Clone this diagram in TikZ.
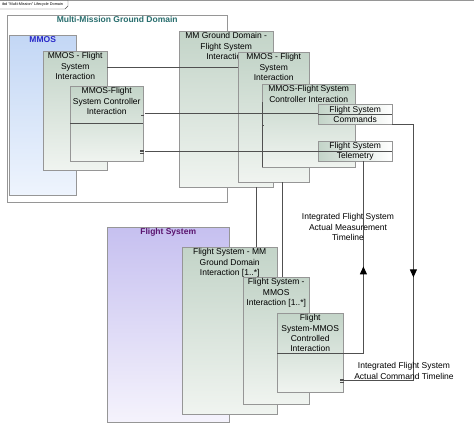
\documentclass[tikz,border=0pt]{standalone}
\usepackage{fontspec}
\setmainfont{Liberation Sans}
\usetikzlibrary{calc,arrows.meta,decorations.markings}

\definecolor{boxedge}{RGB}{150,150,150}
\definecolor{wirecol}{RGB}{80,80,80}
\definecolor{tealT}{RGB}{40,110,110}
\definecolor{mmosT}{RGB}{40,40,200}
\definecolor{fsT}{RGB}{90,20,110}
\definecolor{mmosTop}{RGB}{195,215,245}
\definecolor{mmosBot}{RGB}{238,244,253}
\definecolor{fsTop}{RGB}{198,192,240}
\definecolor{fsBot}{RGB}{245,243,252}
\definecolor{partTop}{RGB}{195,212,200}
\definecolor{partBot}{RGB}{240,244,240}

\begin{document}
\begin{tikzpicture}[x=1pt,y=-1pt,
    font=\fontsize{8.5}{10.2}\selectfont,
    box/.style={draw=boxedge, anchor=north west, inner sep=0pt},
    part/.style={box, top color=partTop, bottom color=partBot},
    lab/.style={anchor=north, align=center, inner sep=1.5pt},
    title/.style={lab, font=\fontsize{8.5}{10.2}\selectfont\bfseries},
    wire/.style={draw=wirecol, line width=1pt},
    flow/.style={wire, postaction={decorate, decoration={markings,
        mark=at position #1 with {\arrow[black]{Triangle[width=7pt,length=8pt]}}}}}
  ]
  \useasboundingbox (0,0) rectangle (474,428);

  % diagram frame tab
  \draw[boxedge] (0,0.5) -- (474,0.5);
  \node[anchor=west, inner sep=0pt, font=\fontsize{3.8}{4}\selectfont] (tab) at (2,4.5) {ibd "Multi-Mission" Lifecycle Domain};
  \draw[wirecol, line width=0.4pt] (0,0) -- (68,0) -- (68,6) -- (65,9) -- (0,9);

  % ground side
  \node[box, fill=white, minimum width=220pt, minimum height=187pt,
    label={[title, text=tealT]north:Multi-Mission Ground Domain}] (mmgd) at (7,15) {};
  \node[box, top color=mmosTop, bottom color=mmosBot, minimum width=67pt, minimum height=160pt,
    label={[title, text=mmosT]north:MMOS}] (mmos) at (9,35) {};
  \node[part, minimum width=64pt, minimum height=119pt,
    label={[lab]north:{MMOS - Flight\\System\\Interaction}}] (mmosFsiL) at (43,51) {};
  \node[part, minimum width=73pt, minimum height=75pt,
    label={[lab]north:{MMOS-Flight\\System Controller\\Interaction}}] (ctlL) at (70,86) {};
  \draw[wirecol, line width=0.6pt] ($(ctlL.south west)+(0,-38)$) -- ($(ctlL.south east)+(0,-38)$);

  \node[part, minimum width=94pt, minimum height=156pt,
    label={[lab]north:{MM Ground Domain -\\Flight System\\Interaction}}] (mmgdFsi) at (179,31) {};
  \node[part, minimum width=71pt, minimum height=130pt,
    label={[lab]north:{MMOS - Flight\\System\\Interaction}}] (mmosFsiR) at (238,52) {};
  \node[part, minimum width=93pt, minimum height=83pt,
    label={[lab]north:{MMOS-Flight System\\Controller Interaction}}] (ctlR) at (262,84) {};
  \draw[wire, line width=0.8pt] ($(ctlR.north west)+(0,18)$) -- (ctlR.south west);
  \draw[wirecol, line width=0.4pt] ($(ctlR.north west)+(0,41)$) -- ++(2,0);

  \node[box, left color=partTop, right color=white, minimum width=74pt, minimum height=20pt,
    align=center] (cmd) at (318,104) {Flight System\\Commands};
  \node[box, left color=partTop, right color=white, minimum width=74pt, minimum height=20pt,
    align=center] (tlm) at (318,141) {Flight System\\Telemetry};
  \draw[wirecol, line width=0.6pt] (cmd.west) -- (cmd.east);
  \draw[wirecol, line width=0.6pt] (tlm.west) -- (tlm.east);

  % flight side
  \node[box, top color=fsTop, bottom color=fsBot, minimum width=122pt, minimum height=195pt,
    label={[title, text=fsT]north:Flight System}] (fs) at (107,227) {};
  \node[part, minimum width=95pt, minimum height=167pt,
    label={[lab]north:{Flight System - MM\\Ground Domain\\Interaction [1..*]}}] (fsMmgd) at (182,247) {};
  \node[part, minimum width=66pt, minimum height=127pt,
    label={[lab]north:{Flight System -\\MMOS\\Interaction [1..*]}}] (fsMmos) at (243,277) {};
  \node[part, minimum width=66pt, minimum height=79pt,
    label={[lab]north:{Flight\\System-MMOS\\Controlled\\Interaction}}] (fsCtl) at (277,313) {};
  \draw[wirecol, line width=0.6pt] ($(fsCtl.south west)+(0,-39)$) -- ($(fsCtl.south east)+(0,-39)$);

  % connectors
  \draw[wire] (mmosFsiL.north east) ++(0,17) coordinate (w1) -- (w1 -| mmosFsiR.west);
  \draw[wire] ($(ctlL.east |- cmd.west)+(2,-1)$) -- ($(cmd.west)+(0,-1)$);
  \draw[wire] ($(ctlL.east |- tlm.west)+(2,0)$) -- (tlm.west);
  \draw[wire] (mmgdFsi.south east) ++(-17,0) coordinate (w4) -- (w4 |- fsMmgd.north);
  \draw[wire] (mmosFsiR.south east) ++(-27,0) coordinate (w5) -- (w5 |- fsMmos.north);
  \draw[flow=174pt] (cmd.south east) -- ++(21,0) |- ($(fsCtl.south east)+(0,-12)$);
  \draw[flow=107pt] ($(fsCtl.south east)+(0,-39)$) -- ++(20,0) coordinate (w7) -- (w7 |- tlm.south);

  % port marks
  \draw[wirecol, line width=0.8pt] ($(ctlL.east |- cmd.west)+(-2,1)$) -- ++(3,0);
  \foreach \d in {-1.5,0,1.5}
    \draw[wirecol, line width=0.4pt] ($(ctlL.east |- tlm.west)+(-3,\d)$) -- ++(4,0);
  \foreach \d in {-1.5,0,1.5}
    \draw[wirecol, line width=0.4pt] ($(fsCtl.south east)+(-3,{-12+\d})$) -- ++(4,0);

  \node[align=center] (measLbl) at (348,227) {Integrated Flight System\\Actual Measurement\\Timeline};
  \node[align=center] (cmdLbl) at (404,371) {Integrated Flight System\\Actual Command Timeline};
\end{tikzpicture}
\end{document}
